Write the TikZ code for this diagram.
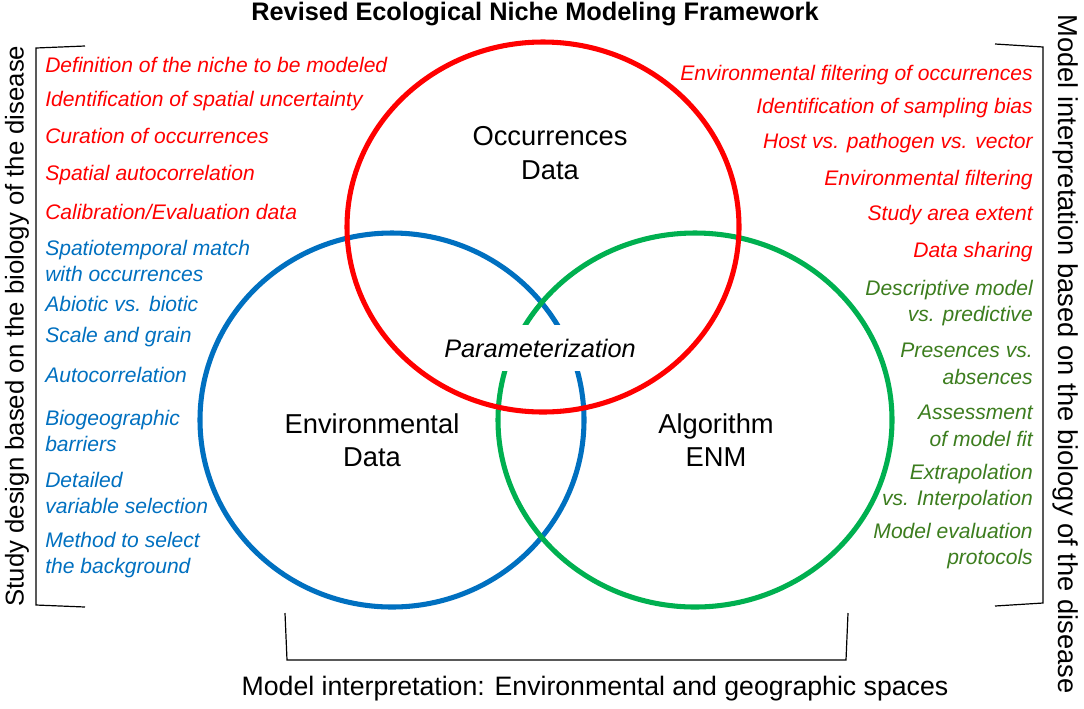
\documentclass[tikz,border=0pt]{standalone}
\usepackage{fontspec}
\setmainfont{Liberation Sans}
\definecolor{cred}{RGB}{255,0,0}
\definecolor{cblue}{RGB}{0,112,192}
\definecolor{cgreen}{RGB}{0,176,80}
\definecolor{tgreen}{RGB}{60,125,30}
\begin{document}
\begin{tikzpicture}[x=0.75pt,y=-0.75pt,
  itemL/.style={anchor=west,align=left,font=\fontsize{15.8}{20}\selectfont\itshape,inner sep=0pt},
  itemR/.style={anchor=east,align=right,font=\fontsize{15.8}{20}\selectfont\itshape,inner sep=0pt},
  lab/.style={align=center,font=\fontsize{20.5}{25}\selectfont},
  ring/.style={line width=3.8pt},
  brk/.style={line width=0.9pt}]
\useasboundingbox (0,0) rectangle (1084,708);
\fill[white] (0,0) rectangle (1084,708);
\node[font=\fontsize{19}{22}\bfseries\selectfont] (title) at (535,14) {Revised Ecological Niche Modeling Framework};
% circles
\draw[ring,cblue] (392,420) ellipse [x radius=192,y radius=187];
\draw[ring,cgreen] (695,420) ellipse [x radius=197,y radius=187];
\draw[ring,cred] (543,227) ellipse [x radius=196,y radius=185];
\node[fill=white,inner sep=0pt,minimum height=34pt,minimum width=150pt,font=\fontsize{19}{22}\selectfont\itshape] (param) at (540,348) {Parameterization};
\node[lab] (occ) at (550,153) {Occurrences\\Data};
\node[lab] (env) at (372,440) {Environmental\\Data};
\node[lab] (alg) at (716,440) {Algorithm\\ENM};
% left list
\begin{scope}[every node/.style={itemL}]
\node[text=cred] (l1) at (45,65) {Definition of the niche to be modeled};
\node[text=cred] (l2) at (45,101) {Identification of spatial uncertainty};
\node[text=cred] (l3) at (45,136) {Curation of occurrences};
\node[text=cred] (l4) at (45,175) {Spatial autocorrelation};
\node[text=cred] (l5) at (45,212) {Calibration/Evaluation data};
\node[text=cblue] (l6) at (45,261) {Spatiotemporal match\\with occurrences};
\node[text=cblue] (l7) at (45,304) {Abiotic vs. biotic};
\node[text=cblue] (l8) at (45,337) {Scale and grain};
\node[text=cblue] (l9) at (45,375) {Autocorrelation};
\node[text=cblue] (l10) at (45,431) {Biogeographic\\barriers};
\node[text=cblue] (l11) at (45,493) {Detailed\\variable selection};
\node[text=cblue] (l12) at (45,555) {Method to select\\the background};
\end{scope}
% right list
\begin{scope}[every node/.style={itemR}]
\node[text=cred] (r1) at (1033,75) {Environmental filtering of occurrences};
\node[text=cred] (r2) at (1033,108) {Identification of sampling bias};
\node[text=cred] (r3) at (1033,143) {Host vs. pathogen vs. vector};
\node[text=cred] (r4) at (1033,180) {Environmental filtering};
\node[text=cred] (r5) at (1033,215) {Study area extent};
\node[text=cred] (r6) at (1033,252) {Data sharing};
\node[text=tgreen] (r7) at (1033,303) {Descriptive model\\vs. predictive};
\node[text=tgreen] (r8) at (1033,364) {Presences vs.\\absences};
\node[text=tgreen] (r9) at (1033,426) {Assessment\\of model fit};
\node[text=tgreen] (r10) at (1033,487) {Extrapolation\\vs. Interpolation};
\node[text=tgreen] (r11) at (1033,546) {Model evaluation\\protocols};
\end{scope}
% brackets
\coordinate (la) at (85,46); \coordinate (lb) at (36,48); \coordinate (lc) at (36,605); \coordinate (ld) at (85,607);
\draw[brk] (la) -- (lb) -- (lc) -- (ld);
\coordinate (ra) at (995,44); \coordinate (rb) at (1043,47); \coordinate (rc) at (1043,603); \coordinate (rd) at (995,606);
\draw[brk] (ra) -- (rb) -- (rc) -- (rd);
\coordinate (ba) at (285,613); \coordinate (bb) at (287,660); \coordinate (bc) at (846,660); \coordinate (bd) at (848,613);
\draw[brk] (ba) -- (bb) -- (bc) -- (bd);
\node[rotate=90,font=\fontsize{19.3}{22}\selectfont] (lt) at (17,326) {Study design based on the biology of the disease};
\node[rotate=-90,font=\fontsize{20.5}{24}\selectfont] (rt) at (1066,354) {Model interpretation based on the biology of the disease};
\node[font=\fontsize{20}{24}\selectfont] (bt) at (595,689) {Model interpretation: Environmental and geographic spaces};
\end{tikzpicture}
\end{document}
